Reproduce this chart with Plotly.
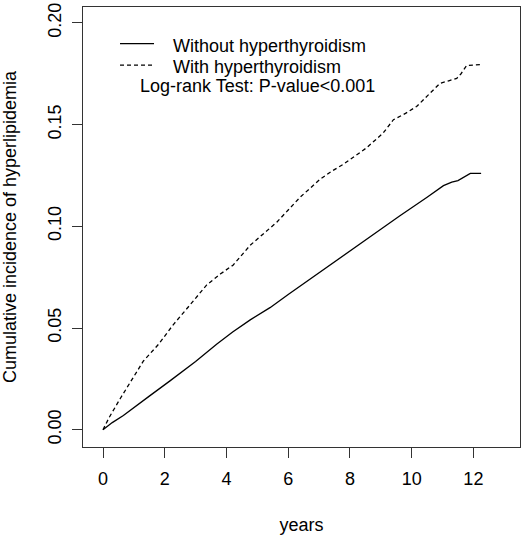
import plotly.graph_objects as go

# cumulative incidence
years_without = [0, 0.3, 0.66, 1.0, 1.5, 2.17, 2.6, 3.0, 3.68, 4.2, 4.77, 5.41, 6.0, 6.5,
                 7.0, 7.57, 8.0, 8.5, 9.0, 9.62, 10.0, 10.5, 11.03, 11.3, 11.5, 11.68,
                 11.75, 11.9, 12.25]
inc_without = [0, 0.0035, 0.007, 0.011, 0.0165, 0.024, 0.029, 0.0335, 0.042, 0.048, 0.054,
               0.060, 0.0665, 0.0718, 0.077, 0.083, 0.0878, 0.0930, 0.0985, 0.1052, 0.109,
               0.1143, 0.120, 0.1217, 0.1225, 0.124, 0.1248, 0.126, 0.126]

years_with = [0, 0.2, 0.55, 0.9, 1.31, 1.8, 2.28, 2.8, 3.36, 3.8, 4.22, 4.77, 5.19, 5.63,
              6.0, 6.38, 7.03, 7.4, 7.78, 8.0, 8.54, 9.08, 9.41, 9.8, 10.16, 10.5, 10.92,
              11.2, 11.46, 11.6, 11.78, 12.25]
inc_with = [0, 0.006, 0.0151, 0.024, 0.0338, 0.042, 0.0517, 0.061, 0.0712, 0.0765, 0.081,
            0.0907, 0.0963, 0.102, 0.108, 0.1142, 0.1231, 0.127, 0.1304, 0.1329, 0.1386,
            0.1459, 0.1524, 0.1555, 0.1589, 0.1640, 0.1703, 0.1715, 0.1727, 0.175, 0.179,
            0.1795]

legend_labels = ['Without hyperthyroidism', 'With hyperthyroidism']
test_label = 'Log-rank Test: P-value<0.001'

FONT = 'Liberation Sans, Arial, sans-serif'

fig = go.Figure()
fig.add_trace(go.Scatter(x=years_without, y=inc_without, mode='lines', name=legend_labels[0],
                         line=dict(color='black', width=1.3)))
fig.add_trace(go.Scatter(x=years_with, y=inc_with, mode='lines', name=legend_labels[1],
                         line=dict(color='black', width=1.3, dash='4px,3px')))

# hand-drawn legend like R's legend()
fig.add_shape(type='line', xref='paper', yref='paper', x0=0.0847, x1=0.1625, y0=0.9166, y1=0.9166,
              line=dict(color='black', width=1.2))
fig.add_shape(type='line', xref='paper', yref='paper', x0=0.0847, x1=0.1625, y0=0.868, y1=0.868,
              line=dict(color='black', width=1.2, dash='4px,3px'))
for txt, xx, yy in [(legend_labels[0], 0.2014, 0.911), (legend_labels[1], 0.2014, 0.864),
                    (test_label, 0.1265, 0.821)]:
    fig.add_annotation(text=txt, xref='paper', yref='paper', x=xx, y=yy, xanchor='left',
                       yanchor='middle', showarrow=False, font=dict(size=18, color='black'))

axis_common = dict(showline=True, mirror=True, linecolor='#333', linewidth=1, showgrid=False,
                   zeroline=False, ticks='outside', ticklen=10, tickcolor='#333',
                   ticklabeloverflow='allow', tickfont=dict(size=18, color='black'))

fig.update_layout(
    width=532, height=535,
    margin=dict(l=83, r=12, t=3, b=88),
    paper_bgcolor='white', plot_bgcolor='white',
    font=dict(family=FONT, size=18, color='black'),
    showlegend=False,
    xaxis=dict(axis_common, range=[-0.648, 13.51], tickvals=[0, 2, 4, 6, 8, 10, 12],
               ticklabelstandoff=5,
               title=dict(text='years', font=dict(size=18), standoff=30)),
    yaxis=dict(axis_common, range=[-0.0085, 0.2078], tickvals=[0, 0.05, 0.10, 0.15, 0.20],
               tickformat='.2f', tickangle=-90, ticklabelstandoff=4,
               title=dict(text='Cumulative incidence of hyperlipidemia', font=dict(size=18),
                          standoff=28)),
)

fig.write_html('out.html', config={'displayModeBar': False},
               post_script="document.body.style.margin='0';")
